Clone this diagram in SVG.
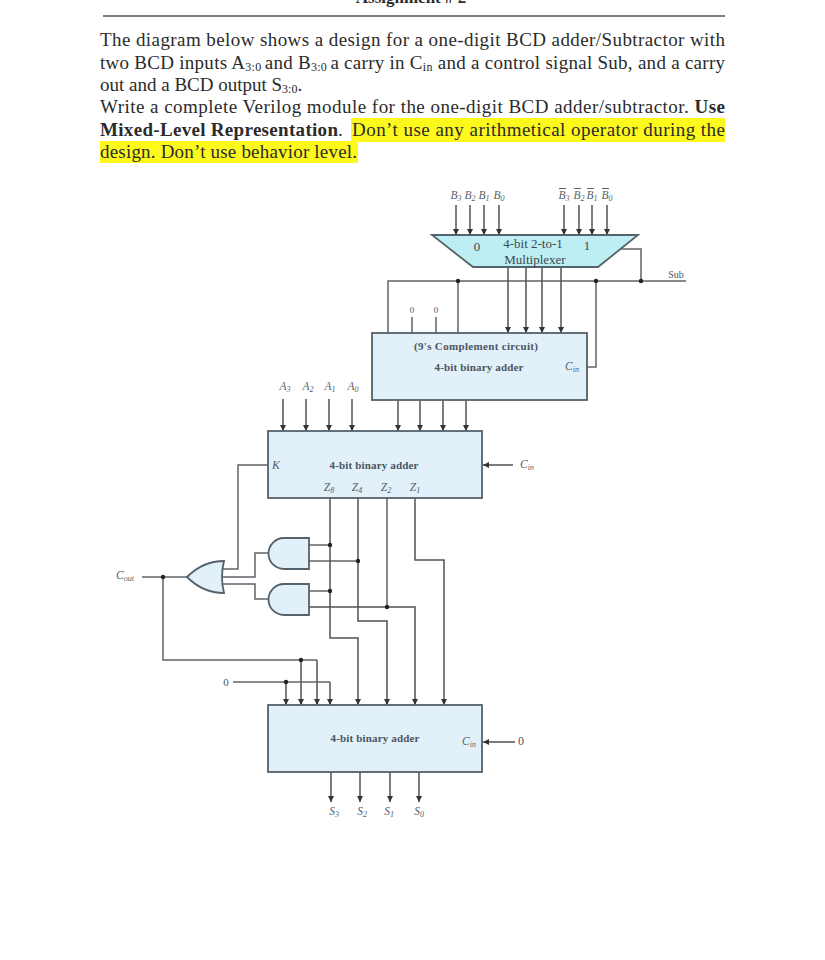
<svg xmlns="http://www.w3.org/2000/svg" width="825" height="960" viewBox="0 0 825 960">
<style>
.doc{font-family:"Liberation Serif","Times New Roman",serif;font-size:19px;fill:#2b2b2b}
.b{font-weight:700}
.sub{font-size:12px}
.lbl{font-family:"Liberation Serif","Times New Roman",serif;font-size:11px;fill:#4a5560;text-anchor:middle}
.mx{font-size:13px;fill:#3c4850}
.sym{font-family:"Liberation Serif","Times New Roman",serif;font-size:11.500px;font-style:italic;fill:#56626c;text-anchor:middle}
.s{font-size:8px}
.box{fill:#e2f0fa;stroke:#55616b;stroke-width:1.800}
.mux{fill:#bdeef3;stroke:#55616b;stroke-width:1.800}
.w{fill:none;stroke:#5f6469;stroke-width:1.500}
.wa{fill:none;stroke:#4f5357;stroke-width:1.500;marker-end:url(#ah)}
.d{fill:#222}
</style>
<defs>
<marker id="ah" markerUnits="userSpaceOnUse" markerWidth="8" markerHeight="8" refX="6" refY="3" orient="auto"><path d="M0,0L6,3L0,6Z" fill="#333"/></marker>
</defs>
<rect width="825" height="960" fill="#ffffff"/>
<g id="page-text">
<text x="411" y="3" text-anchor="middle" class="doc b" style="font-size:17px">Assignment # 2</text>
<line x1="103" y1="16" x2="725" y2="16" stroke="#555" stroke-width="1.500"/>
<rect x="351" y="118" width="374" height="24" fill="#fdf91c"/>
<rect x="100" y="141" width="258" height="22" fill="#fdf91c"/>
<text class="doc" x="100" y="46" textLength="625" lengthAdjust="spacing">The diagram below shows a design for a one-digit BCD adder/Subtractor with</text>
<text class="doc" x="100" y="69" textLength="625" lengthAdjust="spacing">two BCD inputs A<tspan class="sub" dy="2">3:0 </tspan><tspan dy="-2">and B</tspan><tspan class="sub" dy="2">3:0 </tspan><tspan dy="-2">a carry in C</tspan><tspan class="sub" dy="2">in</tspan><tspan dy="-2"> and a control signal Sub, and a carry</tspan></text>
<text class="doc" x="100" y="91">out and a BCD output S<tspan class="sub" dy="2">3:0</tspan><tspan dy="-2">.</tspan></text>
<text class="doc" x="100" y="113" textLength="625" lengthAdjust="spacing">Write a complete Verilog module for the one-digit BCD adder/subtractor. <tspan class="b">Use</tspan></text>
<text class="doc b" x="100" y="136" textLength="238" lengthAdjust="spacing">Mixed-Level Representation</text>
<text class="doc" x="338" y="136">.</text>
<text class="doc" x="352" y="136" textLength="373" lengthAdjust="spacing">Don’t use any arithmetical operator during the</text>
<text class="doc" x="100" y="158" textLength="257" lengthAdjust="spacing">design. Don’t use behavior level.</text>
</g>
<g id="connectors">
<path class="wa" d="M456,205V235"/><path class="wa" d="M470,205V235"/><path class="wa" d="M484,205V235"/><path class="wa" d="M499,205V235"/>
<path class="wa" d="M564,205V235"/><path class="wa" d="M579,205V235"/><path class="wa" d="M592,205V235"/><path class="wa" d="M607,205V235"/>
<path class="w" d="M388,333V281H686"/>
<path class="w" d="M620,249H641V281"/>
<path class="w" d="M458,281V333"/>
<path class="w" d="M412,317V333"/><path class="w" d="M436,317V333"/>
<path class="w" d="M587,367H596V281"/>
<path class="wa" d="M508,267V333"/><path class="wa" d="M526,267V333"/><path class="wa" d="M542,267V333"/><path class="wa" d="M561,267V333"/>
<path class="wa" d="M283,399V431"/><path class="wa" d="M306,399V431"/><path class="wa" d="M329,399V431"/><path class="wa" d="M352,399V431"/>
<path class="wa" d="M398,400V431"/><path class="wa" d="M420,400V431"/><path class="wa" d="M443,400V431"/><path class="wa" d="M466,400V431"/>
<path class="wa" d="M513,465H483"/>
<path class="w" d="M268,465H238V569H223"/>
<path class="w" d="M222,577H255V553H270"/>
<path class="w" d="M223,584H255V599H270"/>
<path class="w" d="M309,545H330"/>
<path class="w" d="M309,561H358"/>
<path class="w" d="M309,591H330"/>
<path class="wa" d="M309,607H415V705"/>
<path class="wa" d="M330,498V638H358V705"/>
<path class="wa" d="M358,498V621H387V705"/>
<path class="w" d="M387,498V607"/>
<path class="wa" d="M415,498V560H444V705"/>
<path class="w" d="M142,577H187"/>
<path class="w" d="M163,577V660H317"/>
<path class="wa" d="M301,660V705"/>
<path class="wa" d="M317,660V705"/>
<path class="w" d="M233,682H330"/>
<path class="wa" d="M286,682V705"/>
<path class="wa" d="M330,682V705"/>
<path class="wa" d="M331,772V802"/><path class="wa" d="M360,772V802"/><path class="wa" d="M390,772V802"/><path class="wa" d="M419,772V802"/>
<path class="wa" d="M515,742H483"/>
<circle class="d" cx="458" cy="281" r="2.200"/><circle class="d" cx="596" cy="281" r="2.200"/><circle class="d" cx="641" cy="281" r="2.200"/>
<circle class="d" cx="330" cy="545" r="2.200"/><circle class="d" cx="358" cy="561" r="2.200"/><circle class="d" cx="330" cy="591" r="2.200"/><circle class="d" cx="387" cy="607" r="2.200"/>
<circle class="d" cx="163" cy="577" r="2.200"/><circle class="d" cx="301" cy="660" r="2.200"/><circle class="d" cx="286" cy="682" r="2.200"/>
</g>
<g id="mux">
<polygon class="mux" points="432,235 638,235 598,267 473,267"/>
<text class="lbl mx" x="477" y="251">0</text>
<text class="lbl mx" x="533" y="248">4-bit 2-to-1</text>
<text class="lbl mx" x="535" y="264">Multiplexer</text>
<text class="lbl mx" x="587" y="250">1</text>
</g>
<g id="complement-adder">
<rect class="box" x="372" y="333" width="215" height="67"/>
<text class="lbl" x="476" y="350" font-weight="700" textLength="124">(9's Complement circuit)</text>
<text class="lbl" x="479" y="371" font-weight="700" textLength="89">4-bit binary adder</text>
<text class="sym" x="572" y="370">C<tspan class="s" dy="2">in</tspan></text>
</g>
<g id="adder-main">
<rect class="box" x="268" y="431" width="214" height="67"/>
<text class="sym" x="276" y="469" style="font-size:12px">K</text>
<text class="lbl" x="374" y="469" font-weight="700" textLength="89">4-bit binary adder</text>
<text class="sym" x="329" y="491">Z<tspan class="s" dy="2">8</tspan></text>
<text class="sym" x="357" y="491">Z<tspan class="s" dy="2">4</tspan></text>
<text class="sym" x="386" y="491">Z<tspan class="s" dy="2">2</tspan></text>
<text class="sym" x="415" y="491">Z<tspan class="s" dy="2">1</tspan></text>
</g>
<g id="adder-output">
<rect class="box" x="268" y="705" width="214" height="67"/>
<text class="lbl" x="375" y="742" font-weight="700" textLength="89">4-bit binary adder</text>
<text class="sym" x="469" y="745">C<tspan class="s" dy="2">in</tspan></text>
</g>
<g id="and-top"><path class="box" d="M309,538H284A15.500,15.500 0 0 0 284,569H309Z"/></g>
<g id="and-bottom"><path class="box" d="M309,584H284A15.500,15.500 0 0 0 284,615H309Z"/></g>
<g id="or-gate"><path class="box" d="M187,577Q203,561 224,561Q220,577 224,593Q203,593 187,577Z"/></g>
<g id="labels">
<text class="sym" x="456" y="199">B<tspan class="s" dy="2">3</tspan></text>
<text class="sym" x="470" y="199">B<tspan class="s" dy="2">2</tspan></text>
<text class="sym" x="484" y="199">B<tspan class="s" dy="2">1</tspan></text>
<text class="sym" x="499" y="199">B<tspan class="s" dy="2">0</tspan></text>
<text class="sym" x="564" y="199">B<tspan class="s" dy="2">3</tspan></text>
<text class="sym" x="579" y="199">B<tspan class="s" dy="2">2</tspan></text>
<text class="sym" x="592" y="199">B<tspan class="s" dy="2">1</tspan></text>
<text class="sym" x="607" y="199">B<tspan class="s" dy="2">0</tspan></text>
<path d="M559,188.500H566M574,188.500H581M587,188.500H594M602,188.500H609" fill="none" stroke="#5f6469" stroke-width="1"/>
<text class="lbl" x="676" y="278" style="font-size:10px">Sub</text>
<text class="lbl" x="412" y="313" style="font-size:9px">0</text>
<text class="lbl" x="436" y="313" style="font-size:9px">0</text>
<text class="sym" x="285" y="390">A<tspan class="s" dy="2">3</tspan></text>
<text class="sym" x="308" y="390">A<tspan class="s" dy="2">2</tspan></text>
<text class="sym" x="330" y="390">A<tspan class="s" dy="2">1</tspan></text>
<text class="sym" x="353" y="390">A<tspan class="s" dy="2">0</tspan></text>
<text class="sym" x="527" y="468">C<tspan class="s" dy="2">in</tspan></text>
<text class="sym" x="125" y="579">C<tspan class="s" dy="2">out</tspan></text>
<text class="lbl" x="226" y="686">0</text>
<text class="lbl" x="521" y="745" style="font-size:12px">0</text>
<text class="sym" x="334" y="815">S<tspan class="s" dy="2">3</tspan></text>
<text class="sym" x="362" y="815">S<tspan class="s" dy="2">2</tspan></text>
<text class="sym" x="389" y="815">S<tspan class="s" dy="2">1</tspan></text>
<text class="sym" x="419" y="815">S<tspan class="s" dy="2">0</tspan></text>
</g>
</svg>
